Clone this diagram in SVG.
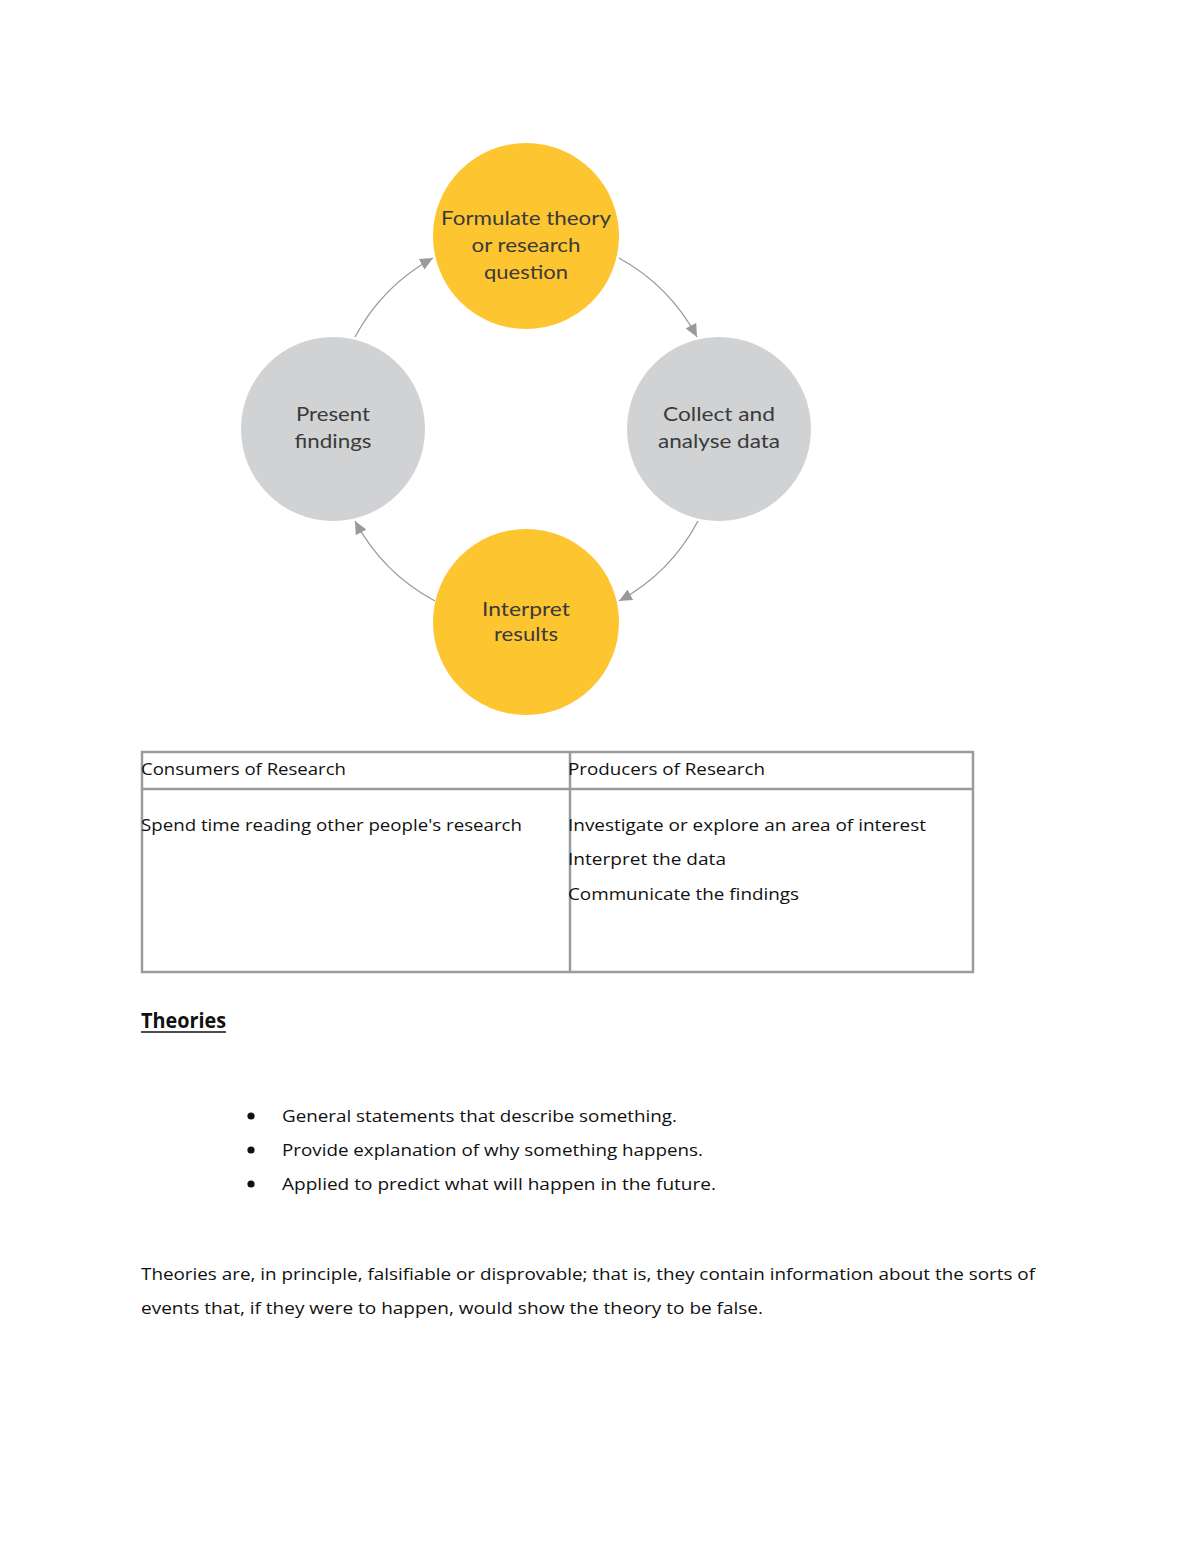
<svg xmlns="http://www.w3.org/2000/svg" width="1200" height="1553" viewBox="0 0 1200 1553">
<style>
.yel{fill:#FDC530}
.gry{fill:#D1D2D4}
.ct{font-family:Lato,"Noto Sans","Liberation Sans",sans-serif;font-size:20px;fill:#3a3a3a;text-anchor:middle}
.conn{fill:none;stroke:#9a9a9c;stroke-width:1.3}
.tb{font-family:"Open Sans","Liberation Sans",sans-serif;font-size:17px;fill:#111}
.bd{stroke:#9b9b9b;stroke-width:2.5;fill:none}
</style>
<defs>
<marker id="ah" markerUnits="userSpaceOnUse" markerWidth="14" markerHeight="12" refX="13" refY="6" orient="auto">
<path d="M0,0 L13,6 L0,12 Z" fill="#9a9a9c"/>
</marker>
</defs>
<rect width="1200" height="1553" fill="#fff"/>
<g id="connectors">
<path class="conn" d="M619,258 A195,195 0 0 1 697,337" marker-end="url(#ah)"/>
<path class="conn" d="M698,521 A195,195 0 0 1 619,601" marker-end="url(#ah)"/>
<path class="conn" d="M435,601 A195,195 0 0 1 355,521" marker-end="url(#ah)"/>
<path class="conn" d="M355,337 A195,195 0 0 1 433,258" marker-end="url(#ah)"/>
</g>
<g id="node-formulate">
<circle class="yel" cx="526" cy="236" r="93"/>
<text class="ct" x="526" y="225" textLength="170" lengthAdjust="spacingAndGlyphs">Formulate theory</text>
<text class="ct" x="526" y="252" textLength="109" lengthAdjust="spacingAndGlyphs">or research</text>
<text class="ct" x="526" y="279" textLength="84" lengthAdjust="spacingAndGlyphs">question</text>
</g>
<g id="node-collect">
<circle class="gry" cx="719" cy="429" r="92"/>
<text class="ct" x="719" y="421" textLength="112" lengthAdjust="spacingAndGlyphs">Collect and</text>
<text class="ct" x="719" y="448" textLength="122" lengthAdjust="spacingAndGlyphs">analyse data</text>
</g>
<g id="node-interpret">
<circle class="yel" cx="526" cy="622" r="93"/>
<text class="ct" x="526" y="616" textLength="88" lengthAdjust="spacingAndGlyphs">Interpret</text>
<text class="ct" x="526" y="641" textLength="64" lengthAdjust="spacingAndGlyphs">results</text>
</g>
<g id="node-present">
<circle class="gry" cx="333" cy="429" r="92"/>
<text class="ct" x="333" y="421" textLength="74" lengthAdjust="spacingAndGlyphs">Present</text>
<text class="ct" x="333" y="448" textLength="77" lengthAdjust="spacingAndGlyphs">findings</text>
</g>
<g id="table">
<rect class="bd" x="142" y="752" width="831" height="220"/>
<line class="bd" x1="142" y1="789" x2="973" y2="789"/>
<line class="bd" x1="570" y1="752" x2="570" y2="972"/>
<text class="tb" x="141" y="775" textLength="205" lengthAdjust="spacingAndGlyphs">Consumers of Research</text>
<text class="tb" x="568" y="775" textLength="197" lengthAdjust="spacingAndGlyphs">Producers of Research</text>
<text class="tb" x="141" y="831" textLength="381" lengthAdjust="spacingAndGlyphs">Spend time reading other people's research</text>
<text class="tb" x="568" y="831" textLength="358" lengthAdjust="spacingAndGlyphs">Investigate or explore an area of interest</text>
<text class="tb" x="568" y="865" textLength="158" lengthAdjust="spacingAndGlyphs">Interpret the data</text>
<text class="tb" x="568" y="900" textLength="231" lengthAdjust="spacingAndGlyphs">Communicate the findings</text>
</g>
<g id="theories">
<text x="141" y="1028" font-family="'Open Sans','Liberation Sans',sans-serif" font-size="21" font-weight="bold" fill="#111" textLength="85" lengthAdjust="spacingAndGlyphs">Theories</text>
<line x1="141" y1="1032" x2="226" y2="1032" stroke="#111" stroke-width="1.6"/>
<circle cx="251" cy="1116" r="3.6" fill="#111"/>
<circle cx="251" cy="1150" r="3.6" fill="#111"/>
<circle cx="251" cy="1184" r="3.6" fill="#111"/>
<text class="tb" x="282" y="1122" textLength="395" lengthAdjust="spacingAndGlyphs">General statements that describe something.</text>
<text class="tb" x="282" y="1156" textLength="421" lengthAdjust="spacingAndGlyphs">Provide explanation of why something happens.</text>
<text class="tb" x="282" y="1190" textLength="434" lengthAdjust="spacingAndGlyphs">Applied to predict what will happen in the future.</text>
<text class="tb" x="141" y="1280" textLength="894" lengthAdjust="spacingAndGlyphs">Theories are, in principle, falsifiable or disprovable; that is, they contain information about the sorts of</text>
<text class="tb" x="141" y="1314" textLength="622" lengthAdjust="spacingAndGlyphs">events that, if they were to happen, would show the theory to be false.</text>
</g>
</svg>
